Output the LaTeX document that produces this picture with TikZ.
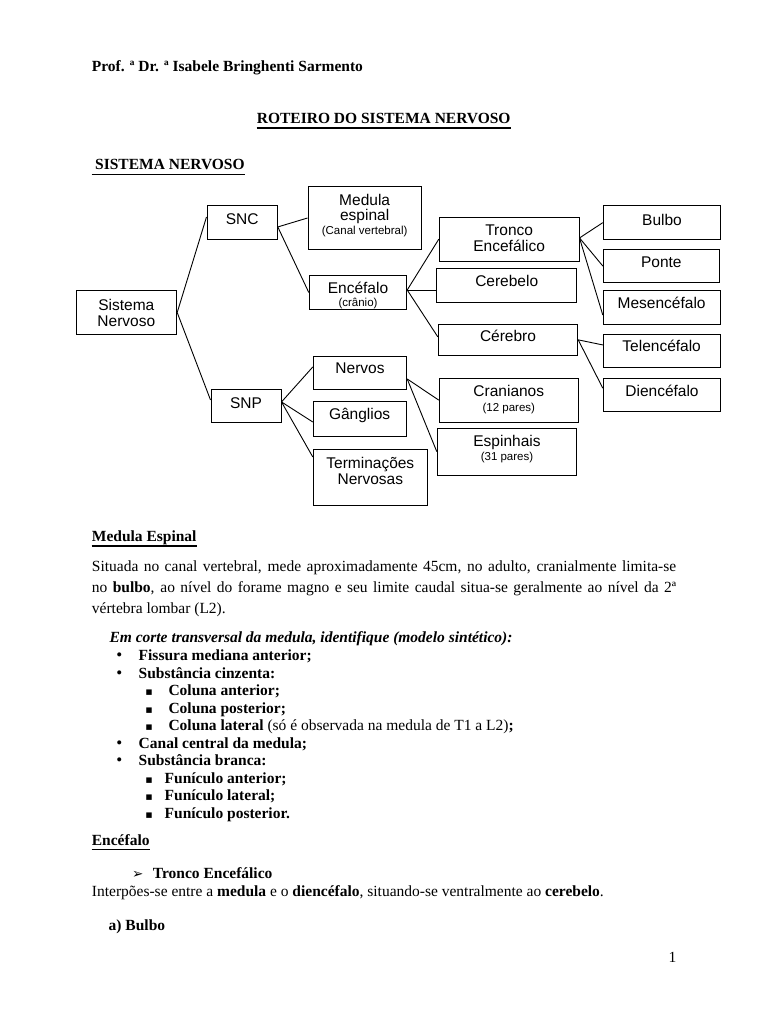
\documentclass[tikz,border=0pt]{standalone}
\usepackage{fontspec}
\setmainfont{Liberation Serif}
\newfontfamily\arialf{Liberation Sans}
\newfontfamily\djv{DejaVu Sans}
\begin{document}
\begin{tikzpicture}[x=1pt,y=-1pt,
  box/.style={draw, line width=1pt, inner sep=0pt, rectangle},
  lbl/.style={font=\arialf\fontsize{15.5}{18}\selectfont, inner sep=0pt, anchor=base},
  sml/.style={font=\arialf\fontsize{11.5}{13}\selectfont, inner sep=0pt, anchor=base},
  txt/.style={font=\fontsize{15.5}{18}\selectfont, inner sep=0pt, anchor=base west},
  bul/.style={font=\fontsize{17}{18}\selectfont, inner sep=0pt, anchor=base},
  sq/.style={font=\djv\fontsize{11}{12}\selectfont, inner sep=0pt, anchor=base},
  conn/.style={line width=0.9pt},
  uline/.style={line width=1.1pt}]
\fill[white] (0,0) rectangle (768,1024);
\useasboundingbox (0,0) rectangle (768,1024);

% ---------- header ----------
\node[txt] (prof) at (91.7,71.7) {\textbf{Prof. ª Dr. ª Isabele Bringhenti Sarmento}};
\node[txt] (rot) at (256.7,123.5) {\textbf{ROTEIRO DO SISTEMA NERVOSO}};
\draw[uline] ([yshift=-4.5]rot.base west) -- ([yshift=-4.5]rot.base east);
\node[txt] (sis) at (91.7,170) {\hspace*{3.3pt}\textbf{SISTEMA NERVOSO}};
\draw[uline] ([yshift=-4.5]sis.base west) -- ([yshift=-4.5]sis.base east);

% ---------- diagram boxes ----------
\node[box, minimum width=100.7, minimum height=43.6] (sn) at (126.35,312.5) {};
\node[box, minimum width=70.3, minimum height=33.3] (snc) at (242.15,222.65) {};
\node[box, minimum width=70, minimum height=32.7] (snp) at (246,405.65) {};
\node[box, minimum width=113.3, minimum height=62.6] (med) at (364.65,218) {};
\node[box, minimum width=97.4, minimum height=33.6] (enc) at (358,292.5) {};
\node[box, minimum width=93.4, minimum height=33.3] (nerv) at (360,372.65) {};
\node[box, minimum width=92.7, minimum height=35] (gang) at (359.65,419.2) {};
\node[box, minimum width=114, minimum height=56.4] (term) at (370.3,477.5) {};
\node[box, minimum width=139.7, minimum height=43.7] (tron) at (509.15,239.15) {};
\node[box, minimum width=140, minimum height=34] (cereb) at (506.7,285.3) {};
\node[box, minimum width=139.4, minimum height=31.7] (cerebro) at (508,339.85) {};
\node[box, minimum width=139, minimum height=43.7] (cran) at (508.8,400.15) {};
\node[box, minimum width=139.4, minimum height=46.7] (esp) at (507,451.65) {};
\node[box, minimum width=117.4, minimum height=33.3] (bulbo) at (662,222.65) {};
\node[box, minimum width=116, minimum height=33.4] (ponte) at (661.3,266) {};
\node[box, minimum width=116.7, minimum height=33.3] (mes) at (661.65,307.35) {};
\node[box, minimum width=116.7, minimum height=33.3] (tel) at (661.65,350.65) {};
\node[box, minimum width=117.4, minimum height=32.7] (dien) at (662,394.65) {};

% ---------- diagram labels ----------
\node[lbl] (l-sn1) at (126.35,310) {Sistema};
\node[lbl] (l-sn2) at (126.35,326) {Nervoso};
\node[lbl] (l-snc) at (242.15,225) {SNC};
\node[lbl] (l-snp) at (246,408) {SNP};
\node[lbl] (l-med1) at (364.65,205.7) {Medula};
\node[lbl] (l-med2) at (364.65,220.8) {espinal};
\node[sml] (l-med3) at (364.65,235) {(Canal vertebral)};
\node[lbl] (l-enc1) at (358,293) {Encéfalo};
\node[sml] (l-enc2) at (358,306.3) {(crânio)};
\node[lbl] (l-nerv) at (360,373) {Nervos};
\node[lbl] (l-gang) at (359.65,419) {Gânglios};
\node[lbl] (l-term1) at (370.3,468) {Terminações};
\node[lbl] (l-term2) at (370.3,484) {Nervosas};
\node[lbl] (l-tron1) at (509.15,235.5) {Tronco};
\node[lbl] (l-tron2) at (509.15,251.5) {Encefálico};
\node[lbl] (l-cereb) at (506.7,286.5) {Cerebelo};
\node[lbl] (l-cerebro) at (508,341.5) {Cérebro};
\node[lbl] (l-cran1) at (508.8,396) {Cranianos};
\node[sml] (l-cran2) at (508.8,411) {(12 pares)};
\node[lbl] (l-esp1) at (507,446) {Espinhais};
\node[sml] (l-esp2) at (507,460.7) {(31 pares)};
\node[lbl] (l-bulbo) at (662,225.5) {Bulbo};
\node[lbl] (l-ponte) at (661.3,267.3) {Ponte};
\node[lbl] (l-mes) at (661.65,308.3) {Mesencéfalo};
\node[lbl] (l-tel) at (661.65,351.7) {Telencéfalo};
\node[lbl] (l-dien) at (662,396) {Diencéfalo};

% ---------- connectors ----------
\draw[conn] (sn.east) -- ([yshift=5.7]snc.west);
\draw[conn] (sn.east) -- ([yshift=5.7]snp.west);
\draw[conn] ([yshift=-4.3]snc.east) -- (med.west);
\draw[conn] ([yshift=-4.3]snc.east) -- (enc.west);
\draw[conn] ([yshift=2.5]enc.east) -- (tron.west);
\draw[conn] ([yshift=2.5]enc.east) -- ([yshift=-4.7]cereb.west);
\draw[conn] ([yshift=2.5]enc.east) -- ([yshift=3]cerebro.west);
\draw[conn] ([yshift=1.2]tron.east) -- (bulbo.west);
\draw[conn] ([yshift=1.2]tron.east) -- (ponte.west);
\draw[conn] ([yshift=1.2]tron.east) -- ([yshift=-7.7]mes.west);
\draw[conn] (cerebro.east) -- ([yshift=5.7]tel.west);
\draw[conn] (cerebro.east) -- ([yshift=6.5]dien.west);
\draw[conn] ([yshift=3.7]snp.east) -- ([yshift=5.7]nerv.west);
\draw[conn] ([yshift=3.7]snp.east) -- ([yshift=-2.8]gang.west);
\draw[conn] ([yshift=3.7]snp.east) -- ([yshift=20.5]term.west);
\draw[conn] ([yshift=-6.3]nerv.east) -- (cran.west);
\draw[conn] ([yshift=-6.3]nerv.east) -- (esp.west);

% ---------- Medula Espinal ----------
\node[txt] (me) at (91.7,541.5) {\textbf{Medula Espinal}};
\draw[uline] ([yshift=-4.5]me.base west) -- ([yshift=-4.5]me.base east);
\node[txt] (p1) at (91.7,571.5) {\makebox[584.3pt][s]{Situada no canal vertebral, mede aproximadamente 45cm, no adulto, cranialmente limita-se}};
\node[txt] (p2) at (91.7,592.5) {\makebox[584.3pt][s]{no \textbf{bulbo}, ao nível do forame magno e seu limite caudal situa-se geralmente ao nível da 2ª}};
\node[txt] (p3) at (91.7,613) {vértebra lombar (L2).};

\node[txt] (ec) at (109.3,642.5) {\textbf{\itshape Em corte transversal da medula, identifique (modelo sintético):}};
\node[bul] (b1) at (119.3,660.5) {•};
\node[txt] (t1) at (138.5,660.5) {\textbf{Fissura mediana anterior;}};
\node[bul] (b2) at (119.3,678) {•};
\node[txt] (t2) at (138.5,678) {\textbf{Substância cinzenta:}};
\node[sq] (s1) at (149,695.5) {▪};
\node[txt] (t3) at (168.3,695.5) {\textbf{Coluna anterior;}};
\node[sq] (s2) at (149,713) {▪};
\node[txt] (t4) at (168.3,713) {\textbf{Coluna posterior;}};
\node[sq] (s3) at (149,730.5) {▪};
\node[txt] (t5) at (168.3,730.5) {\textbf{Coluna lateral} (só é observada na medula de T1 a L2)\textbf{;}};
\node[bul] (b3) at (119.3,748) {•};
\node[txt] (t6) at (138.5,748) {\textbf{Canal central da medula;}};
\node[bul] (b4) at (119.3,765.5) {•};
\node[txt] (t7) at (138.5,765.5) {\textbf{Substância branca:}};
\node[sq] (s4) at (149,783) {▪};
\node[txt] (t8) at (164.5,783) {\textbf{Funículo anterior;}};
\node[sq] (s5) at (149,800.5) {▪};
\node[txt] (t9) at (164.5,800.5) {\textbf{Funículo lateral;}};
\node[sq] (s6) at (149,818) {▪};
\node[txt] (t10) at (164.5,818) {\textbf{Funículo posterior.}};

% ---------- Encéfalo ----------
\node[txt] (en) at (91.7,845) {\textbf{Encéfalo}};
\draw[uline] ([yshift=-4.5]en.base west) -- ([yshift=-4.5]en.base east);
\node[font=\djv\fontsize{13.5}{14}\selectfont, inner sep=0pt, anchor=base west] (arr) at (132,878) {➢};
\node[txt] (te) at (152.7,878) {\textbf{Tronco Encefálico}};
\node[txt] (ip) at (91.7,896) {Interpões-se entre a \textbf{medula} e o \textbf{diencéfalo}, situando-se ventralmente ao \textbf{cerebelo}.};
\node[txt] (ab) at (108.5,930) {\textbf{a) Bulbo}};
\node[font=\fontsize{15.5}{18}\selectfont, inner sep=0pt, anchor=base east] (pg) at (676.5,962) {1};
\end{tikzpicture}
\end{document}
